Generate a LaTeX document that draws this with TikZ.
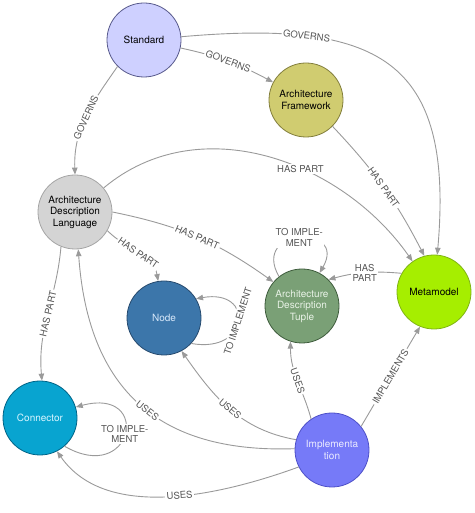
\documentclass[tikz,border=0pt]{standalone}
\usepackage{fontspec}
\setmainfont{TeX Gyre Heros}
\usetikzlibrary{arrows.meta}

\definecolor{edgegray}{HTML}{9A9A9A}
\definecolor{lblgray}{HTML}{555555}

\begin{document}
\begin{tikzpicture}[x=1pt,y=1pt,
    ent/.style={circle,draw,line width=0.8pt,minimum size=74pt,inner sep=0pt,
      align=center,font=\fontsize{10}{11.5}\selectfont},
    lbl/.style={fill=white,inner sep=1.5pt,text=lblgray,align=center,
      font=\fontsize{9.5}{10.5}\selectfont}]
      \useasboundingbox (0,0) rectangle (474,513);
      \draw
        (144,473) node[ent,fill={rgb,255:red,206;green,208;blue,255},draw={rgb,255:red,88;green,90;blue,140}] (0){Standard}
        (306,413) node[ent,fill={rgb,255:red,208;green,204;blue,112},draw={rgb,255:red,130;green,126;blue,60}] (1){Architecture\\Framework}
        (75,301) node[ent,fill={rgb,255:red,212;green,212;blue,212},draw={rgb,255:red,165;green,165;blue,165}] (2){Architecture\\Description\\Language}
        (164,195) node[ent,fill={rgb,255:red,60;green,118;blue,170},draw={rgb,255:red,38;green,74;blue,110},text={rgb,255:red,215;green,232;blue,250}] (3){Node}
        (302,207) node[ent,fill={rgb,255:red,122;green,160;blue,118},draw={rgb,255:red,62;green,92;blue,60},text={rgb,255:red,232;green,242;blue,230}] (4){Architecture\\Description\\Tuple}
        (434,221) node[ent,fill={rgb,255:red,166;green,238;blue,0},draw={rgb,255:red,128;green,180;blue,20}] (5){Metamodel}
        (40,95) node[ent,fill={rgb,255:red,8;green,164;blue,208},draw={rgb,255:red,0;green,100;blue,135},text={rgb,255:red,215;green,245;blue,255}] (6){Connector}
        (332,63) node[ent,fill={rgb,255:red,118;green,122;blue,248},draw={rgb,255:red,78;green,80;blue,200},text={rgb,255:red,235;green,235;blue,255}] (7){Implementa\\tion};
      \begin{scope}[draw=edgegray,line width=0.9pt,-{Triangle[length=7pt,width=5.5pt]}]
        \draw (0) to[bend left=8] node[lbl,sloped] {GOVERNS} (1);
        \draw (0) to[out=5,in=85,looseness=1.5] node[lbl,sloped,pos=0.25] {GOVERNS} (5);
        \draw (0.225) to[out=235,in=92] node[lbl,sloped] {GOVERNS} (2.90);
        \draw (1) to[bend left=8] node[lbl,sloped] {HAS PART} (5.105);
        \draw (2.40) to[out=40,in=125] node[lbl,pos=0.6] {HAS PART} (5.125);
        \draw (2.0) to[bend left=12] node[lbl,sloped] {HAS PART} (4.140);
        \draw (2.-30) to[out=-45,in=100] node[lbl,sloped] {HAS PART} (3.99);
        \draw (2.-112) to[out=-95,in=95] node[lbl,sloped] {HAS PART} (6.87);
        \draw (5.150) to[bend right=10] node[lbl] {HAS\\PART} (4.45);
        \draw (4.128) to[out=120,in=60,looseness=3.6] node[lbl] {TO IMPLE-\\MENT} (4.62);
        \draw (3.-43) to[out=-10,in=10,looseness=3.4] node[lbl,rotate=72] {TO IMPLEMENT} (3.31);
        \draw (6.-49) to[out=-30,in=15,looseness=5] node[lbl] {TO IMPLE-\\MENT} (6.17);
        \draw (7.124) to[out=105,in=-90] node[lbl,sloped] {USES} (4.-108);
        \draw (7.39) to node[lbl,sloped] {IMPLEMENTS} (5.-112);
        \draw (7.164) to[out=170,in=-55] node[lbl,sloped] {USES} (3.-62);
        \draw (7.178) to[out=182,in=-86,out distance=115pt,in distance=160pt] node[lbl,sloped] {USES} (2.-85);
        \draw (7.207) to[out=200,in=-55,looseness=0.9] node[lbl,sloped,pos=0.45] {USES} (6.-63);
      \end{scope}
    \end{tikzpicture}
\end{document}
